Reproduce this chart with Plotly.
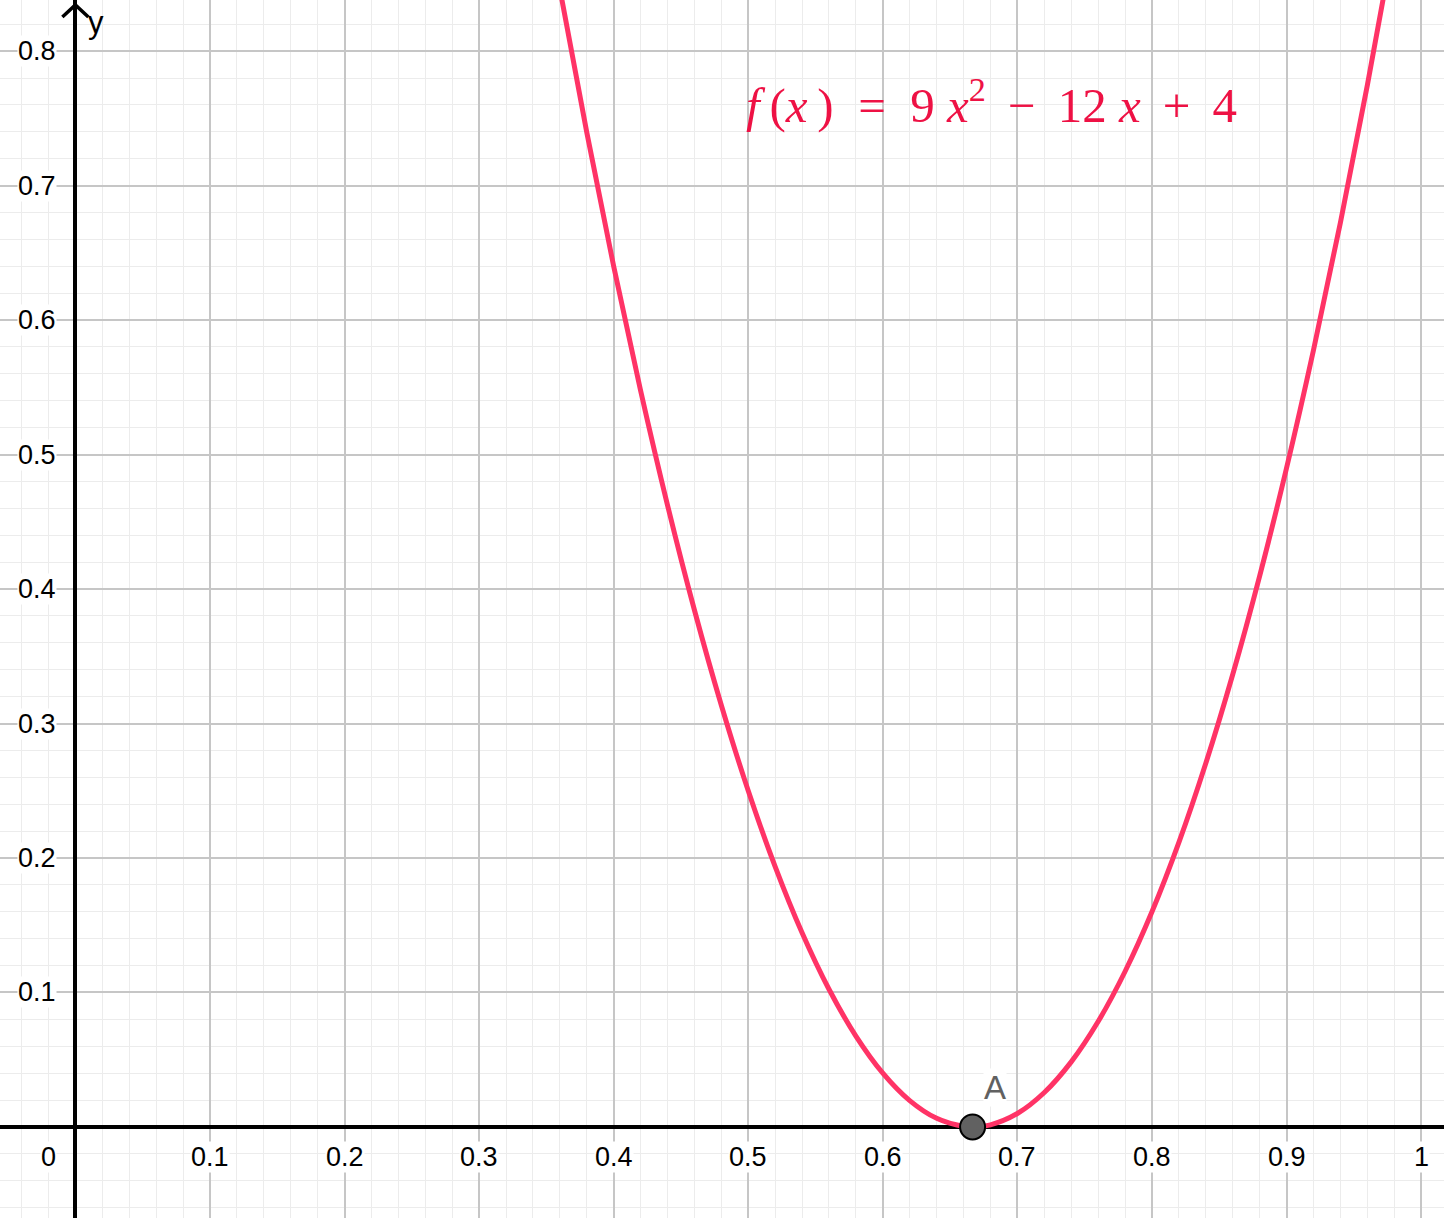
import plotly.graph_objects as go

x_vals = [0.36, 0.38, 0.40, 0.42, 0.44, 0.46, 0.48, 0.50, 0.52, 0.54, 0.56,
          0.58, 0.60, 0.62, 0.64, 0.66, 0.6667, 0.68, 0.70, 0.72, 0.74, 0.76,
          0.78, 0.80, 0.82, 0.84, 0.86, 0.88, 0.90, 0.92, 0.94, 0.96, 0.98]
y_vals = [0.8464, 0.7396, 0.64, 0.5476, 0.4624, 0.3844, 0.3136, 0.25, 0.1936,
          0.1444, 0.1024, 0.0676, 0.04, 0.0196, 0.0064, 0.0004, 0.0, 0.0016,
          0.01, 0.0256, 0.0484, 0.0784, 0.1156, 0.16, 0.2116, 0.2704, 0.3364,
          0.4096, 0.49, 0.5776, 0.6724, 0.7744, 0.8836]

point_x = [0.6667]
point_y = [0.0]
point_name = ["A"]

x_ticks = [0.1, 0.2, 0.3, 0.4, 0.5, 0.6, 0.7, 0.8, 0.9, 1]
x_tick_text = ["0.1", "0.2", "0.3", "0.4", "0.5", "0.6", "0.7", "0.8", "0.9", "1"]
y_ticks = [0.1, 0.2, 0.3, 0.4, 0.5, 0.6, 0.7, 0.8]
y_tick_text = ["0.1", "0.2", "0.3", "0.4", "0.5", "0.6", "0.7", "0.8"]

formula = ("<i>f</i>\u2009(<i>x</i>\u2009)  =  9 <i>x</i><sup>2</sup>"
           "\u2009 −\u2009 12 <i>x</i>\u2009 +\u2009 4")

fig = go.Figure()

fig.add_trace(go.Scatter(x=x_vals, y=y_vals, mode="lines",
                         line=dict(color="#ff3366", width=5, shape="spline"),
                         hoverinfo="skip"))

fig.add_trace(go.Scatter(x=point_x, y=point_y, mode="markers",
                         marker=dict(size=25, color="#616161",
                                     line=dict(color="black", width=2)),
                         hoverinfo="skip"))

tick_font = dict(family="Liberation Sans, Arial", size=27, color="black")
annotations = []
for v, t in zip(x_ticks, x_tick_text):
    annotations.append(dict(x=v, y=0, xref="x", yref="y", text=t,
                            showarrow=False, font=tick_font, bgcolor="white",
                            borderpad=0, yanchor="middle", yshift=-30))
for v, t in zip(y_ticks, y_tick_text):
    annotations.append(dict(x=0, y=v, xref="x", yref="y", text=t,
                            showarrow=False, font=tick_font, bgcolor="white",
                            borderpad=0, xanchor="right", xshift=-18))
annotations.append(dict(x=0, y=0, xref="x", yref="y", text="0", showarrow=False,
                        font=tick_font, bgcolor="white", borderpad=0,
                        xanchor="center", xshift=-27, yshift=-30))
annotations.append(dict(x=0, y=1, xref="x", yref="paper", text="y", showarrow=False,
                        font=dict(family="Liberation Sans, Arial", size=31, color="black"),
                        xanchor="left", yanchor="top", xshift=11, yshift=-3))
for px, py, name in zip(point_x, point_y, point_name):
    annotations.append(dict(x=px, y=py, xref="x", yref="y", text=name, showarrow=False,
                            font=dict(family="Liberation Sans, Arial", size=33,
                                      color="#616161"),
                            bgcolor="white", borderpad=0, xshift=22, yshift=39))
annotations.append(dict(x=0.5, y=0.8, xref="x", yref="y", text=formula,
                        showarrow=False, xanchor="left", yanchor="middle",
                        xshift=-4, yshift=-50,
                        font=dict(family="Liberation Serif, Times New Roman",
                                  size=49, color="#ee1144")))

# arrow head on the y axis
shapes = [dict(type="path", xref="x", yref="paper", xsizemode="pixel",
               ysizemode="pixel", xanchor=0, yanchor=1,
               path="M -13,-17 L 0,-5 L 13,-17",
               line=dict(color="black", width=3.5))]

axis_common = dict(showgrid=True, gridcolor="#c6c6c6", gridwidth=2,
                   zeroline=True, zerolinecolor="black", zerolinewidth=4,
                   showticklabels=False, ticks="", showline=False,
                   minor=dict(showgrid=True, gridcolor="#ececec", gridwidth=1))

fig.update_xaxes(range=[-0.056, 1.017], dtick=0.1, tick0=0, **axis_common)
fig.update_xaxes(minor_dtick=0.02)
fig.update_yaxes(range=[-0.0677, 0.838], dtick=0.1, tick0=0, **axis_common)
fig.update_yaxes(minor_dtick=0.02)

fig.update_layout(width=1444, height=1218, margin=dict(l=0, r=0, t=0, b=0),
                  plot_bgcolor="white", paper_bgcolor="white",
                  showlegend=False, annotations=annotations, shapes=shapes)

fig.write_html("out.html", config={"displayModeBar": False},
               post_script="document.body.style.margin='0px';")
